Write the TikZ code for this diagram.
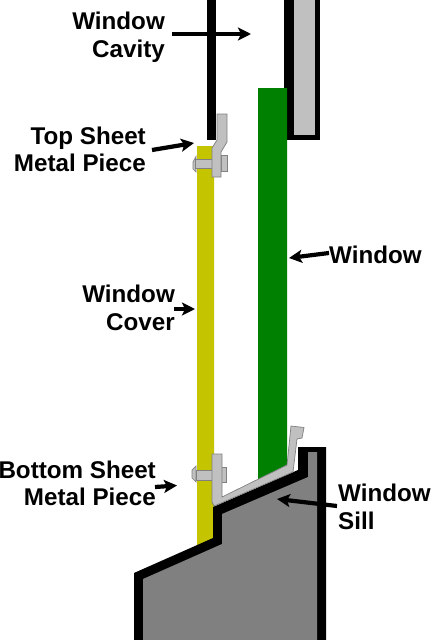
\documentclass[tikz,border=0pt]{standalone}
\usepackage{fontspec}
\setmainfont{Liberation Sans}
\usetikzlibrary{arrows.meta}
\definecolor{coverc}{RGB}{196,196,0}
\definecolor{glassc}{RGB}{0,128,0}
\definecolor{metalc}{RGB}{192,192,192}
\definecolor{edgec}{RGB}{128,128,128}
\definecolor{sillc}{RGB}{128,128,128}
\tikzset{
  lab/.style={font=\bfseries\fontsize{24.2}{27.5}\selectfont,inner sep=0pt,text=black},
  pointer/.style={line width=4.2pt,draw=black,-{Stealth[length=13pt,width=13pt,inset=3pt]}},
  metal/.style={fill=metalc,draw=edgec,line width=0.7pt,line join=miter},
  x=1pt,y=-1pt
}
\begin{document}
\begin{tikzpicture}
\useasboundingbox[fill=white] (0,0) rectangle (440,640);
% wall strip and window frame
\fill[black] (207,0) rectangle (216,140);
\fill[black] (284,0) rectangle (320,140);
\fill[metalc] (294,0) rectangle (315,135);
% cover and glass
\fill[coverc] (197,146) -- (214,146) -- (214,540) -- (197,546) -- cycle;
\fill[glassc] (258,88) -- (287,88) -- (287,467) -- (258,480) -- cycle;
% sill
\fill[black] (134,640) -- (134,573) -- (213,538) -- (213,507) -- (298,470) -- (298,447) -- (326,447) -- (326,640) -- cycle;
\fill[sillc] (143,640) -- (143,579) -- (222,544) -- (222,514) -- (308,477) -- (308,452) -- (317,452) -- (317,640) -- cycle;
% top metal piece and bolt
\draw[metal] (193,162) -- (196,156.5) -- (196,172) -- (193,169) -- cycle;
\draw[metal] (195,159) rectangle (213,168.5);
\draw[metal] (221,155) rectangle (227,171);
\draw[metal] (217,114) -- (227,114) -- (227,142) -- (221,152) -- (221,177) -- (212,177) -- (212,148) -- (217,140) -- cycle;
% bottom metal piece and bolt
\draw[metal] (192,470) -- (196,466) -- (196,482) -- (192,478) -- cycle;
\draw[metal] (196,470) rectangle (212,480);
\draw[metal] (221,467) rectangle (226,482);
\draw[metal] (212,454) -- (222,454) -- (222,497) -- (287,465) -- (291,426) -- (304,427.5) -- (302,438) -- (297,439) -- (293,472) -- (214,506) -- (212,502) -- cycle;
% labels
\node[lab,align=right,anchor=base east] (cavity) at (165,57) {Window\\Cavity};
\node[lab,align=right,anchor=base east] (topmetal) at (146,171.5) {Top Sheet\\Metal Piece};
\node[lab,align=right,anchor=base east] (cover) at (175,330) {Window\\Cover};
\node[lab,align=right,anchor=base east] (botmetal) at (156,505.5) {Bottom Sheet\\Metal Piece};
\node[lab,anchor=base west] (window) at (329,263) {Window};
\node[lab,align=left,anchor=base west] (sill) at (338,529) {Window\\Sill};
% pointers
\coordinate (t1) at (172,34); \coordinate (h1) at (251,34);
\coordinate (t2) at (152,150); \coordinate (h2) at (194,143);
\coordinate (t3) at (174,309); \coordinate (h3) at (195,309);
\coordinate (t4) at (155,487); \coordinate (h4) at (177,485.5);
\coordinate (t5) at (329,253); \coordinate (h5) at (289,258);
\coordinate (t6) at (337,506); \coordinate (h6) at (277,499);
\draw[pointer] (t1) -- (h1);
\draw[pointer] (t2) -- (h2);
\draw[pointer] (t3) -- (h3);
\draw[pointer] (t4) -- (h4);
\draw[pointer] (t5) -- (h5);
\draw[pointer] (t6) -- (h6);
\end{tikzpicture}
\end{document}
